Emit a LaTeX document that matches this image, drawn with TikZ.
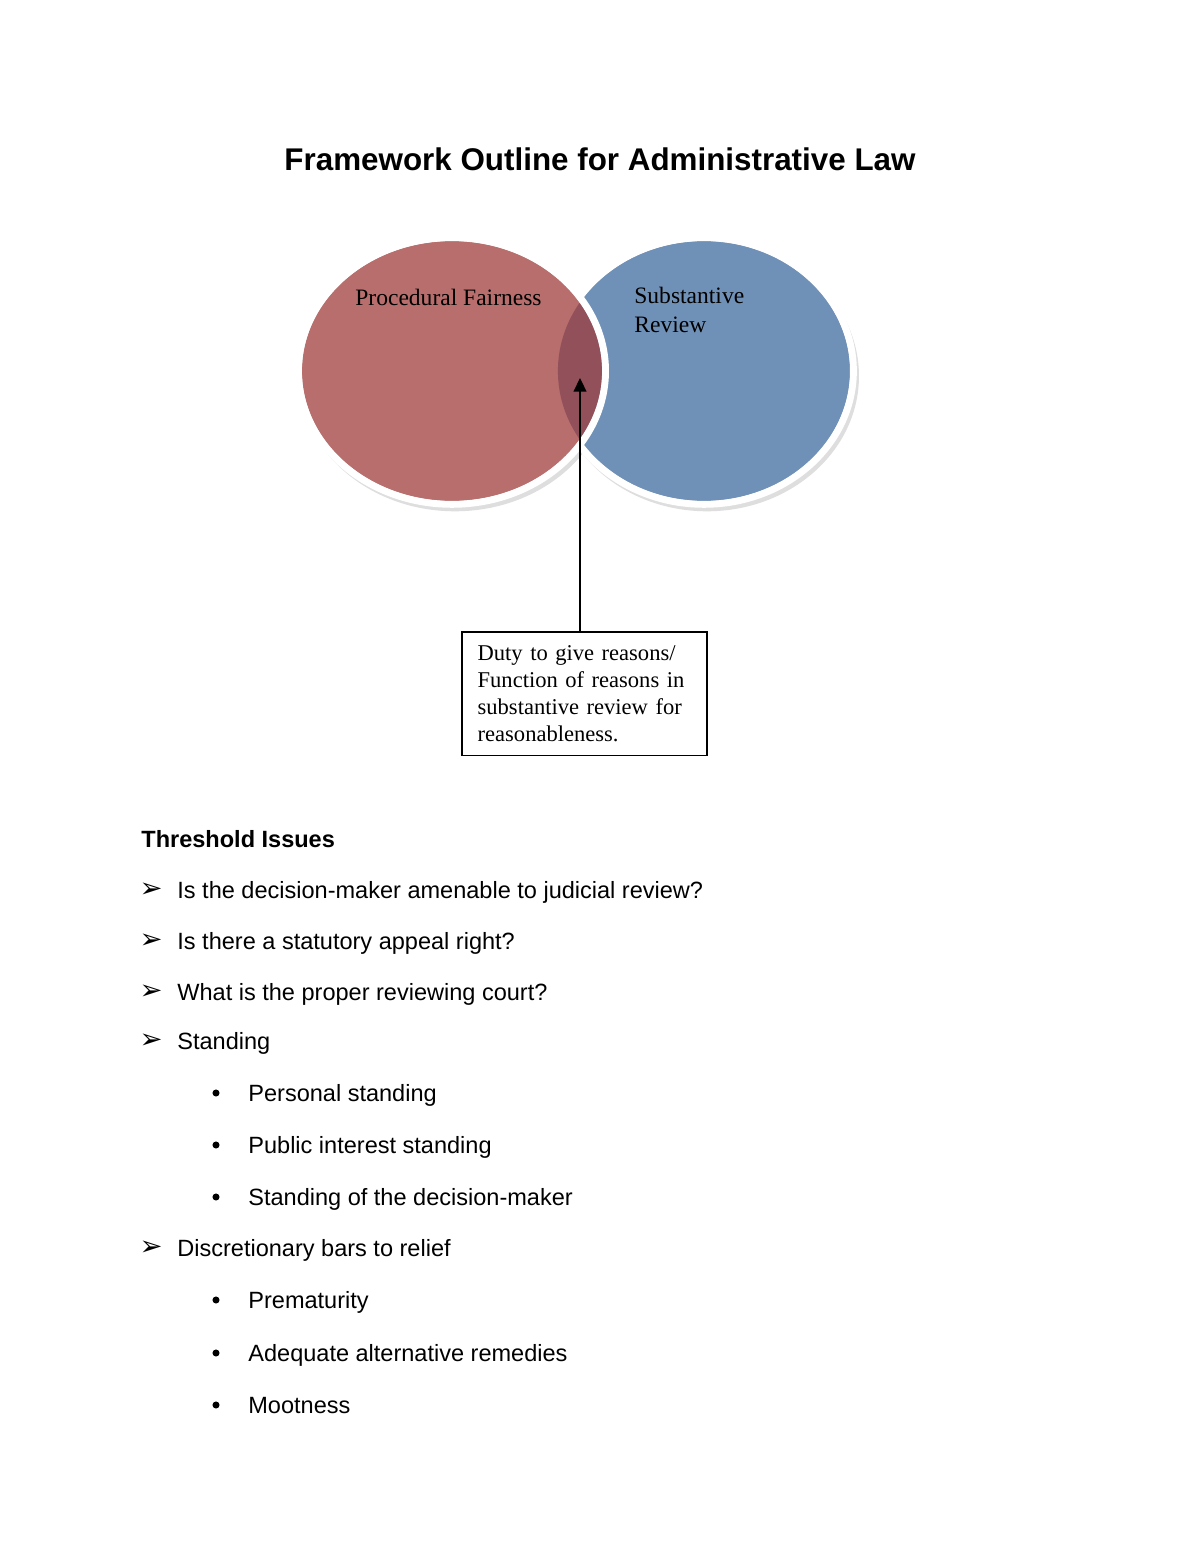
\documentclass[tikz,border=0pt]{standalone}
\usepackage{fontspec}
\setmainfont{Liberation Sans}
\newfontfamily\vennfont{Liberation Serif}
\newfontfamily\symbolfont{DejaVu Sans}
\usetikzlibrary{arrows.meta, positioning}
\definecolor{procColor}{RGB}{183, 110, 108}
\definecolor{substColor}{RGB}{112, 145, 183}
\definecolor{overlapColor}{RGB}{146, 80, 90}
\definecolor{ringShadow}{RGB}{222, 222, 222}
\tikzset{
    venn_ring/.style={
        draw=white,
        line width=3.5pt
    },
    venn_shadow/.style={
        fill=ringShadow
    },
    venn_label/.style={
        font=\vennfont\fontsize{12}{14.3}\selectfont,
        align=left,
        anchor=base west,
        inner sep=0pt
    },
    reason_box/.style={
        draw=black,
        line width=1pt,
        font=\vennfont\fontsize{11.5}{13.8}\selectfont,
        align=left,
        text width=109pt,
        inner xsep=8pt,
        minimum height=63pt
    },
    reason_edge/.style={
        -{Triangle[length=7pt, width=6.5pt]},
        line width=1.1pt,
        draw=black
    },
    title_text/.style={
        font=\bfseries\fontsize{16}{19}\selectfont,
        anchor=base,
        inner sep=0pt
    },
    head_text/.style={
        font=\bfseries\fontsize{12}{14}\selectfont,
        anchor=base west,
        inner sep=0pt
    },
    item_text/.style={
        font=\fontsize{12}{14}\selectfont,
        anchor=base west,
        inner sep=0pt
    },
    item_arrow/.style={
        font=\symbolfont\fontsize{14}{16}\selectfont,
        inner sep=0pt
    },
    item_dot/.style={
        circle,
        fill=black,
        inner sep=0pt,
        minimum size=3.6pt
    }
}

\begin{document}
\begin{tikzpicture}[x=0.51pt, y=-0.51pt]
    \useasboundingbox[fill=white] (0,0) rectangle (1200,1553);

    \node[title_text] (title) at (600,171) {Framework Outline for Administrative Law};

    % venn diagram
    \fill[venn_shadow] (455,376) ellipse [x radius=79.5pt, y radius=69pt];
    \fill[venn_shadow] (707,376) ellipse [x radius=77.5pt, y radius=69pt];
    \fill[substColor] (704,371) ellipse [x radius=74.5pt, y radius=66.3pt];
    \draw[venn_ring] (704,371) ellipse [x radius=76.2pt, y radius=68pt];
    \fill[procColor] (452,371) ellipse [x radius=76.5pt, y radius=66.3pt];
    \begin{scope}
        \clip (452,371) ellipse [x radius=76.5pt, y radius=66.3pt];
        \fill[overlapColor] (704,371) ellipse [x radius=74.5pt, y radius=66.3pt];
    \end{scope}
    \draw[venn_ring] (452,371) ellipse [x radius=78.3pt, y radius=68pt];

    \node[venn_label] (proc) at (355,305) {Procedural Fairness};
    \node[venn_label] (subst) at (634,332) {Substantive\\Review};

    \coordinate (lens_tip) at (580,378);
    \node[reason_box, anchor=north west] (reasons) at (461,631)
        {Duty to give reasons/\\Function of reasons in\\substantive review for\\reasonableness.};
    \draw[reason_edge] (reasons.north -| lens_tip) -- (lens_tip);

    % threshold issues
    \node[head_text] (threshold) at (141,847) {Threshold Issues};
    \foreach \n/\y/\txt in {1/898/Is the decision-maker amenable to judicial review?,
                            2/949/Is there a statutory appeal right?,
                            3/1000/What is the proper reviewing court?,
                            4/1049/Standing,
                            5/1256/Discretionary bars to relief}
    {
        \node[item_arrow] (mark\n) at (151,\y-8) {➢};
        \node[item_text] (item\n) at (177,\y) {\txt};
    }
    \foreach \n/\y/\txt in {1/1101/Personal standing,
                            2/1153/Public interest standing,
                            3/1205/Standing of the decision-maker,
                            4/1308/Prematurity,
                            5/1361/Adequate alternative remedies,
                            6/1413/Mootness}
    {
        \node[item_dot] (dot\n) at (216,\y-8) {};
        \node[item_text] (sub\n) at (248,\y) {\txt};
    }
\end{tikzpicture}
\end{document}
